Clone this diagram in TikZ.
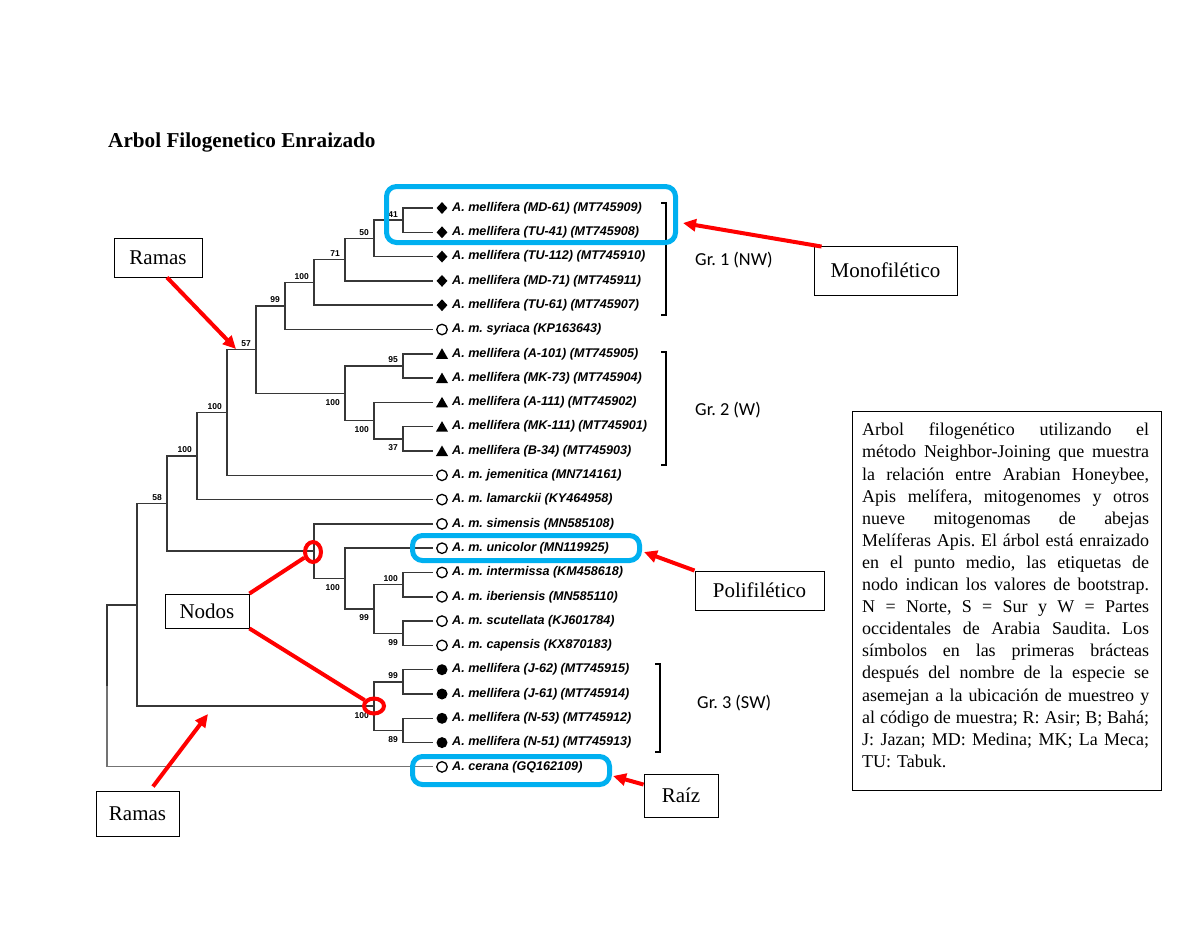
\documentclass[tikz,border=0pt]{standalone}
\usepackage{fontspec}
\setmainfont{Liberation Serif}
\newfontfamily\sansf{Liberation Sans}
\newfontfamily\calf{Carlito}
\usetikzlibrary{arrows.meta,shapes.geometric,calc}
\definecolor{ared}{RGB}{255,0,0}
\definecolor{cblue}{RGB}{0,176,240}
\definecolor{brc}{RGB}{55,55,55}
\parindent=0pt
\hbadness=10000
\hfuzz=20pt
\frenchspacing
\newcommand{\leaf}[4]{%
  \coordinate (L#1) at (433,#2);
  \node[#3] (m#1) at (442,#2) {};
  \node[leaflab] (t#1) at (452,#2) {A. #4};}
\newcommand{\jl}[1]{{\spaceskip=0pt\xspaceskip=0pt\makebox[287pt][s]{#1}}\\}
\begin{document}
\begin{tikzpicture}[x=1pt,y=-1pt,
  br/.style={draw=brc, line width=1.5},
  leaflab/.style={anchor=west, inner sep=0, font=\sansf\fontsize{12.6}{14}\selectfont\bfseries\itshape},
  mkdia/.style={diamond, fill=black, minimum width=11, minimum height=12, inner sep=0},
  mktri/.style={regular polygon, regular polygon sides=3, fill=black, minimum size=14, inner sep=0, yshift=-1.5},
  mkdot/.style={circle, fill=black, minimum size=11, inner sep=0},
  mkopen/.style={circle, draw=black, line width=1.3, minimum size=10.5, inner sep=0},
  bsa/.style={anchor=east, inner sep=0, font=\sansf\fontsize{8.5}{9}\selectfont\bfseries, xshift=-5, yshift=6},
  bsb/.style={anchor=east, inner sep=0, font=\sansf\fontsize{8.5}{9}\selectfont\bfseries, xshift=-5, yshift=-9},
  bluebox/.style={draw=cblue, line width=5, rounded corners=10, inner sep=0},
  annot/.style={draw=black, line width=0.9, fill=white, font=\fontsize{21}{25}\selectfont, inner sep=0},
  redarrow/.style={draw=ared, line width=4, -{Triangle[length=13pt,width=12pt]}},
  redline/.style={draw=ared, line width=4},
  redcirc/.style={ellipse, draw=ared, line width=4, inner sep=0},
  brk/.style={draw=black, line width=1.2},
  grlab/.style={anchor=west, inner sep=0, font=\calf\fontsize{18.3}{20}\selectfont}
]
\fill[white] (0,0) rectangle (1200,927);
\useasboundingbox (0,0) rectangle (1200,927);

% title
\node[anchor=west, inner sep=0, font=\bfseries\fontsize{21.2}{25}\selectfont] (title) at (108,142) {Arbol Filogenetico Enraizado};

% leaves
\leaf{1}{208.0}{mkdia}{mellifera (MD-61) (MT745909)}
\leaf{2}{232.3}{mkdia}{mellifera (TU-41) (MT745908)}
\leaf{3}{256.6}{mkdia}{mellifera (TU-112) (MT745910)}
\leaf{4}{280.9}{mkdia}{mellifera (MD-71) (MT745911)}
\leaf{5}{305.2}{mkdia}{mellifera (TU-61) (MT745907)}
\leaf{6}{329.5}{mkopen}{m. syriaca (KP163643)}
\leaf{7}{353.8}{mktri}{mellifera (A-101) (MT745905)}
\leaf{8}{378.1}{mktri}{mellifera (MK-73) (MT745904)}
\leaf{9}{402.4}{mktri}{mellifera (A-111) (MT745902)}
\leaf{10}{426.7}{mktri}{mellifera (MK-111) (MT745901)}
\leaf{11}{451.0}{mktri}{mellifera (B-34) (MT745903)}
\leaf{12}{475.3}{mkopen}{m. jemenitica (MN714161)}
\leaf{13}{499.6}{mkopen}{m. lamarckii (KY464958)}
\leaf{14}{523.9}{mkopen}{m. simensis (MN585108)}
\leaf{15}{548.2}{mkopen}{m. unicolor (MN119925)}
\leaf{16}{572.5}{mkopen}{m. intermissa (KM458618)}
\leaf{17}{596.8}{mkopen}{m. iberiensis (MN585110)}
\leaf{18}{621.1}{mkopen}{m. scutellata (KJ601784)}
\leaf{19}{645.4}{mkopen}{m. capensis (KX870183)}
\leaf{20}{669.7}{mkdot}{mellifera (J-62) (MT745915)}
\leaf{21}{694.0}{mkdot}{mellifera (J-61) (MT745914)}
\leaf{22}{718.3}{mkdot}{mellifera (N-53) (MT745912)}
\leaf{23}{742.6}{mkdot}{mellifera (N-51) (MT745913)}
\leaf{24}{766.9}{mkopen}{cerana (GQ162109)}

% internal nodes
\coordinate (n41) at (403,220.15);
\coordinate (n50) at (374,238.38);
\coordinate (n71) at (345,259.64);
\coordinate (nA) at (314,282.42);
\coordinate (n99) at (285,305.96);
\coordinate (n95) at (403,365.95);
\coordinate (n37) at (403,438.85);
\coordinate (nC) at (374,420.63);
\coordinate (nB) at (345,393.29);
\coordinate (n57) at (256,349.63);
\coordinate (nD) at (227,412.47);
\coordinate (nE) at (197,456.03);
\coordinate (nF) at (403,584.65);
\coordinate (n99b) at (403,633.25);
\coordinate (n99c) at (374,608.95);
\coordinate (nG) at (345,578.58);
\coordinate (nP) at (314,551.24);
\coordinate (n58) at (167,503.64);
\coordinate (n99d) at (403,681.85);
\coordinate (n89) at (403,730.45);
\coordinate (nH) at (374,706.15);
\coordinate (nM) at (137,604.9);
\coordinate (nR) at (107,685.9);

% branches
\draw[br] (L1) -| (n41) |- (L2);
\draw[br] (n41) -| (n50) |- (L3);
\draw[br] (n50) -| (n71) |- (L4);
\draw[br] (n71) -| (nA) |- (L5);
\draw[br] (nA) -| (n99) |- (L6);
\draw[br] (L7) -| (n95) |- (L8);
\draw[br] (L10) -| (n37) |- (L11);
\draw[br] (L9) -| (nC) |- (n37);
\draw[br] (n95) -| (nB) |- (nC);
\draw[br] (n99) -| (n57) |- (nB);
\draw[br] (n57) -| (nD) |- (L12);
\draw[br] (nD) -| (nE) |- (L13);
\draw[br] (L16) -| (nF) |- (L17);
\draw[br] (L18) -| (n99b) |- (L19);
\draw[br] (nF) -| (n99c) |- (n99b);
\draw[br] (L15) -| (nG) |- (n99c);
\draw[br] (L14) -| (nP) |- (nG);
\draw[br] (nE) -| (n58) |- (nP);
\draw[br] (L20) -| (n99d) |- (L21);
\draw[br] (L22) -| (n89) |- (L23);
\draw[br] (n99d) -| (nH) |- (n89);
\draw[br] (n58) -| (nM) |- (nH);
\draw[br] (nM) -| (nR);
\draw[br, draw=black!55, line width=1.1] (nR) |- (L24);

% bootstrap values
\node[bsa] (b41) at (n41) {41};
\node[bsa] (b50) at (n50) {50};
\node[bsa] (b71) at (n71) {71};
\node[bsa] (bA) at (nA) {100};
\node[bsa] (b99) at (n99) {99};
\node[bsa] (b57) at (n57) {57};
\node[bsa] (b95) at (n95) {95};
\node[bsb] (bB) at (nB) {100};
\node[bsb] (bC) at (nC) {100};
\node[bsb] (b37) at (n37) {37};
\node[bsa] (bD) at (nD) {100};
\node[bsa] (bE) at (nE) {100};
\node[bsa] (b58) at (n58) {58};
\node[bsa] (bF) at (nF) {100};
\node[bsb] (b99b) at (n99b) {99};
\node[bsb] (b99c) at (n99c) {99};
\node[bsb] (bG) at (nG) {100};
\node[bsa] (b99d) at (n99d) {99};
\node[bsb] (b89) at (n89) {89};
\node[bsb] (bH) at (nH) {100};

% group brackets
\draw[brk] (661,203) -- (666,203) -- (666,315) -- (661,315);
\draw[brk] (661,352) -- (666,352) -- (666,465) -- (661,465);
\draw[brk] (655,664) -- (660,664) -- (660,752) -- (655,752);
\node[grlab] (gr1) at (695,260) {Gr. 1 (NW)};
\node[grlab] (gr2) at (695,410) {Gr. 2 (W)};
\node[grlab] (gr3) at (697,703) {Gr. 3 (SW)};

% blue highlight boxes
\node[bluebox, minimum width=289, minimum height=56] (bx1) at (531,214.5) {};
\node[bluebox, minimum width=227, minimum height=25] (bx2) at (526,548) {};
\node[bluebox, minimum width=197, minimum height=28] (bx3) at (511,770.5) {};

% red circles on nodes
\node[redcirc, minimum width=16, minimum height=20] (c1) at (313,552) {};
\node[redcirc, minimum width=20, minimum height=15] (c2) at (374,706) {};

% annotation boxes
\node[annot, minimum width=88, minimum height=39] (ramas1) at (158,257.5) {Ramas};
\node[annot, minimum width=143, minimum height=49] (mono) at (885.5,270.5) {Monofilético};
\node[annot, minimum width=129, minimum height=39] (poli) at (759.5,590.5) {Polifilético};
\node[annot, minimum width=84, minimum height=34] (nodos) at (207,611) {Nodos};
\node[annot, minimum width=83, minimum height=45] (ramas2) at (137.5,813.5) {Ramas};
\node[annot, minimum width=74, minimum height=43] (raiz) at (681,795.5) {Raíz};

% red arrows
\coordinate (tip1) at (236,349);
\coordinate (tip2) at (683,223);
\coordinate (tip3) at (644,552);
\coordinate (tip4) at (613,776);
\coordinate (tip5) at (208,714);
\draw[redarrow] ($(ramas1.south)+(9,0)$) -- (tip1);
\draw[redarrow] ($(mono.north west)+(8,1)$) -- (tip2);
\draw[redarrow] (poli.north west) -- (tip3);
\draw[redarrow] ($(raiz.north west)+(0,11)$) -- (tip4);
\draw[redarrow] ($(ramas2.north)+(15.5,-4)$) -- (tip5);
\draw[redline] (nodos.north east) -- (c1);
\draw[redline] (nodos.south east) -- (c2);

% caption box
\node[draw=black, line width=0.9, minimum width=309, minimum height=379, anchor=north west, inner sep=0] (capbox) at (852,411) {};
\node[anchor=north west, inner sep=0, text width=289, align=left, font=\fontsize{18}{22.1}\selectfont] (captxt) at (862,423) {%
\jl{Arbol filogenético utilizando el}
\jl{método Neighbor-Joining que muestra}
\jl{la relación entre Arabian Honeybee,}
\jl{Apis melífera, mitogenomes y otros}
\jl{nueve mitogenomas de abejas}
\jl{Melíferas Apis. El árbol está enraizado}
\jl{en el punto medio, las etiquetas de}
\jl{nodo indican los valores de bootstrap.}
\jl{N = Norte, S = Sur y W = Partes}
\jl{occidentales de Arabia Saudita. Los}
\jl{símbolos en las primeras brácteas}
\jl{después del nombre de la especie se}
\jl{asemejan a la ubicación de muestreo y}
\jl{al código de muestra; R: Asir; B; Bahá;}
\jl{J: Jazan; MD: Medina; MK; La Meca;}
TU: Tabuk.};
\end{tikzpicture}
\end{document}
